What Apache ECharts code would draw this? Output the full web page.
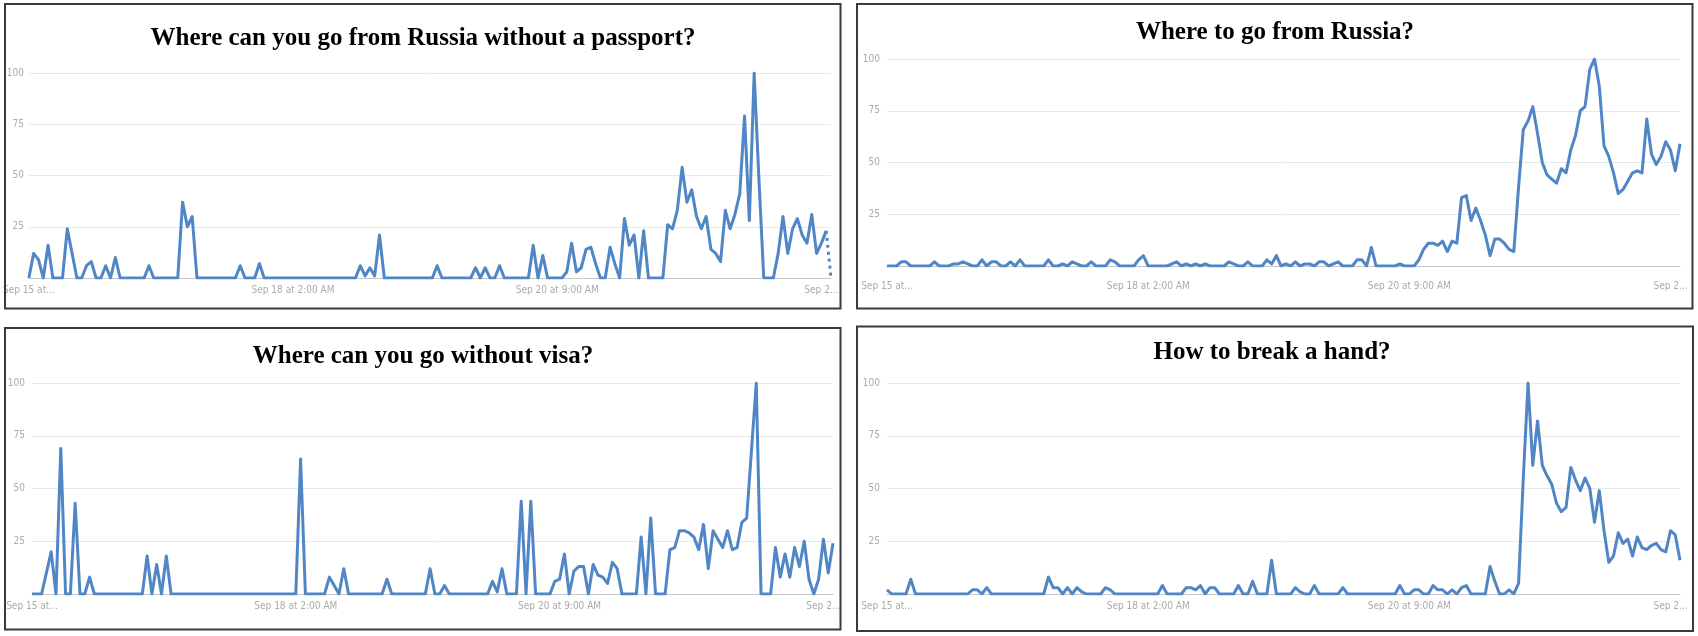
<!DOCTYPE html>
<html><head><meta charset="utf-8">
<script src="https://cdn.jsdelivr.net/npm/echarts@6/dist/echarts.min.js"></script>
<style>html,body{margin:0;padding:0;background:#fff;}#c{width:1698px;height:636px;}</style>
</head><body><div id="c"></div>
<script>
const titles = [
  'Where can you go from Russia without a passport?',
  'Where to go from Russia?',
  'Where can you go without visa?',
  'How to break a hand?'
];
const tickIndex = [0, 55, 110, 165];
const tickLabels = ['Sep 15 at...', 'Sep 18 at 2:00 AM', 'Sep 20 at 9:00 AM', 'Sep 2...'];
const yTicks = [25, 50, 75, 100];

const passport = [
  0,12,9,0,16,0,0,0,24,12,
  0,0,6,8,0,0,6,0,10,0,
  0,0,0,0,0,6,0,0,0,0,
  0,0,37,25,30,0,0,0,0,0,
  0,0,0,0,6,0,0,0,7,0,
  0,0,0,0,0,0,0,0,0,0,
  0,0,0,0,0,0,0,0,0,6,
  1,5,1,21,0,0,0,0,0,0,
  0,0,0,0,0,6,0,0,0,0,
  0,0,0,5,0,5,0,0,6,0,
  0,0,0,0,0,16,0,11,0,0,
  0,0,3,17,3,5,14,15,7,0,
  0,15,7,0,29,16,21,0,23,0,
  0,0,0,26,24,33,54,37,43,30,
  24,30,14,12,8,33,24,31,41,79,
  28,100,48,0,0,0,12,30,12,24,
  29,21,17,31,12,17,23,0
];
const russia = [
  0,0,0,2,2,0,0,0,0,0,
  2,0,0,0,1,1,2,1,0,0,
  3,0,2,2,0,0,2,0,3,0,
  0,0,0,0,3,0,0,1,0,2,
  1,0,0,2,0,0,0,3,2,0,
  0,0,0,3,5,0,0,0,0,0,
  1,2,0,1,0,1,0,1,0,0,
  0,0,2,1,0,0,2,0,0,0,
  3,1,5,0,1,0,2,0,1,1,
  0,2,2,0,1,2,0,0,0,3,
  3,0,9,0,0,0,0,0,1,0,
  0,0,3,8,11,11,10,12,7,12,
  11,33,34,22,28,22,15,5,13,13,
  11,8,7,38,66,70,77,64,50,44,
  42,40,47,45,56,63,75,77,95,100,
  87,58,53,45,35,37,41,45,46,45,
  71,54,49,53,60,56,46,59
];
const visa = [
  0,0,0,10,20,0,69,0,0,43,
  0,0,8,0,0,0,0,0,0,0,
  0,0,0,0,18,0,14,0,18,0,
  0,0,0,0,0,0,0,0,0,0,
  0,0,0,0,0,0,0,0,0,0,
  0,0,0,0,0,0,64,0,0,0,
  0,0,8,4,0,12,0,0,0,0,
  0,0,0,0,7,0,0,0,0,0,
  0,0,0,12,0,0,4,0,0,0,
  0,0,0,0,0,0,6,1,12,0,
  0,0,44,0,44,0,0,0,0,6,
  7,19,0,11,13,13,0,14,9,8,
  5,15,12,0,0,0,0,27,0,36,
  0,0,0,21,22,30,30,29,27,21,
  33,12,30,26,22,30,21,22,34,36,
  68,100,0,0,0,22,8,19,8,22,
  13,25,7,0,7,26,10,24
];
const hand = [
  2,0,0,0,0,7,0,0,0,0,
  0,0,0,0,0,0,0,0,2,2,
  0,3,0,0,0,0,0,0,0,0,
  0,0,0,0,8,3,3,0,3,0,
  3,1,0,0,0,0,3,2,0,0,
  0,0,0,0,0,0,0,0,4,0,
  0,0,0,3,3,2,4,0,3,3,
  0,0,0,0,4,0,0,6,0,0,
  0,16,0,0,0,0,3,1,0,0,
  4,0,0,0,0,0,3,0,0,0,
  0,0,0,0,0,0,0,0,4,0,
  0,2,2,0,0,4,2,2,0,2,
  0,3,4,0,0,0,0,13,6,0,
  0,2,0,5,55,100,61,82,61,56,
  52,43,39,41,60,54,49,55,50,34,
  49,30,15,18,29,24,26,18,27,22,
  21,23,24,21,20,30,28,16
];
// index from which the passport series is drawn dotted (partial data)
const partialStart = 166;

// hourly categories starting Sep 15, 7:00 PM
const months = ['Jan','Feb','Mar','Apr','May','Jun','Jul','Aug','Sep','Oct','Nov','Dec'];
const categories = passport.map((_, i) => {
  const d = new Date(Date.UTC(2022, 8, 15, 19 + i));
  const h = d.getUTCHours();
  const h12 = h % 12 === 0 ? 12 : h % 12;
  return months[d.getUTCMonth()] + ' ' + d.getUTCDate() + ' at ' + h12 + ':00 ' + (h < 12 ? 'AM' : 'PM');
});

const panels = [
  {data: passport, box: [5, 4, 835.5, 304.5], grid: {left: 27, top: 73, width: 804, height: 205}, title: {cx: 423, top: 26}, yMargin: 5, xMargin: 7},
  {data: russia, box: [857, 4, 835.5, 304.5], grid: {left: 887, top: 59, width: 793, height: 207}, title: {cx: 1275, top: 20}, yMargin: 7, xMargin: 15},
  {data: visa, box: [5, 328, 835.5, 301.5], grid: {left: 32, top: 383, width: 801, height: 211}, title: {cx: 423, top: 344}, yMargin: 7, xMargin: 7},
  {data: hand, box: [857, 326.5, 836, 304.5], grid: {left: 887, top: 383, width: 793, height: 211}, title: {cx: 1272, top: 340}, yMargin: 7, xMargin: 7}
];

const LINE = '#5086c6';
const narrow = "'Liberation Sans Narrow', 'DejaVu Sans Condensed', 'Roboto', sans-serif";

const option = {
  animation: false,
  backgroundColor: '#fff',
  title: panels.map((p, k) => ({
    text: titles[k], left: p.title.cx, top: p.title.top, textAlign: 'center', padding: 0,
    textStyle: {fontFamily: "'Liberation Serif', 'Times New Roman', serif", fontWeight: 'bold', fontSize: 25, color: '#000'}
  })),
  grid: panels.map(p => Object.assign({containLabel: false}, p.grid)),
  xAxis: panels.map((p, k) => ({
    type: 'category', gridIndex: k, data: categories, boundaryGap: false,
    axisTick: {show: false},
    axisLine: {show: true, lineStyle: {color: '#c6c6c6', width: 1}},
    splitLine: {show: false},
    axisLabel: {
      interval: (i) => tickIndex.indexOf(i) >= 0,
      formatter: (v, i) => tickLabels[tickIndex.indexOf(i)] || '',
      color: '#ababab', fontSize: 10, fontFamily: narrow, margin: p.xMargin
    }
  })),
  yAxis: panels.map((p, k) => ({
    type: 'value', gridIndex: k, min: 0, max: 100, interval: 25,
    axisLine: {show: false}, axisTick: {show: false},
    splitLine: {lineStyle: {color: '#e9e9e9', width: 1}},
    axisLabel: {
      formatter: (v) => yTicks.indexOf(v) >= 0 ? String(v) : '',
      color: '#ababab', fontSize: 10, fontFamily: narrow, margin: p.yMargin
    }
  })),
  series: [],
  graphic: panels.map(p => ({
    type: 'rect', shape: {x: p.box[0], y: p.box[1], width: p.box[2], height: p.box[3]},
    style: {fill: 'none', stroke: '#3a3a3a', lineWidth: 2}, silent: true, z: 100
  }))
};

panels.forEach((p, k) => {
  const solid = k === 0 ? p.data.map((v, i) => i <= partialStart ? v : null) : p.data;
  option.series.push({
    type: 'line', xAxisIndex: k, yAxisIndex: k, data: solid, symbol: 'none',
    lineStyle: {color: LINE, width: 3, join: 'round'}, connectNulls: false
  });
  if (k === 0) {
    option.series.push({
      type: 'line', xAxisIndex: k, yAxisIndex: k,
      data: p.data.map((v, i) => i >= partialStart ? v : null), symbol: 'none',
      lineStyle: {color: LINE, width: 3, type: [3, 4]}
    });
  }
});

const chart = echarts.init(document.getElementById('c'), null, {renderer: 'canvas'});
chart.setOption(option);
</script></body></html>
